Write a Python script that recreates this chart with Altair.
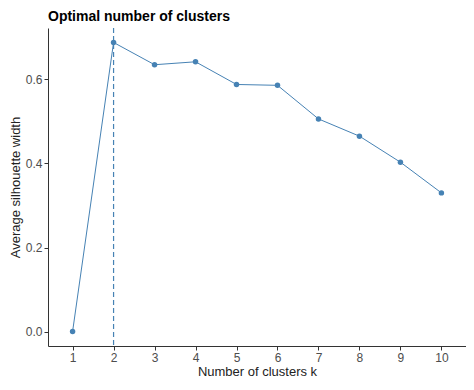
import altair as alt
import pandas as pd

k_values = [1, 2, 3, 4, 5, 6, 7, 8, 9, 10]
silhouette = [0.0, 0.688, 0.635, 0.642, 0.588, 0.586, 0.506, 0.465, 0.403, 0.330]
optimal_k = [2]
x_ticks = [1, 2, 3, 4, 5, 6, 7, 8, 9, 10]
y_ticks = [0.0, 0.2, 0.4, 0.6]
title_text = ["Optimal number of clusters"]

df = pd.DataFrame({"k": k_values, "s": silhouette})
vline = pd.DataFrame({"k": optimal_k})
tdf = pd.DataFrame({"t": title_text})

FONT = "Liberation Sans"
COL = "#4682B4"

x_enc = alt.X("k:Q",
              scale=alt.Scale(domain=[0.4, 10.6], nice=False, zero=False),
              axis=alt.Axis(values=x_ticks, title="Number of clusters k", grid=False,
                            labelFontSize=12, titleFontSize=13, labelColor="#4D4D4D",
                            titleColor="#222222", titleFontWeight="normal",
                            domainColor="#333333", tickColor="#333333", tickSize=4,
                            labelPadding=2, titlePadding=2, labelFont=FONT, titleFont=FONT))
y_enc = alt.Y("s:Q",
              scale=alt.Scale(domain=[-0.0344, 0.7224], nice=False, zero=False),
              axis=alt.Axis(values=y_ticks, format=".1f", title="Average silhouette width",
                            grid=False, labelFontSize=12, titleFontSize=13,
                            labelColor="#4D4D4D", titleColor="#222222",
                            titleFontWeight="normal", domainColor="#333333",
                            tickColor="#333333", tickSize=4, labelPadding=2,
                            titlePadding=3, labelFont=FONT, titleFont=FONT))

line = alt.Chart(df).mark_line(color=COL, strokeWidth=1).encode(x=x_enc, y=y_enc)
pts = alt.Chart(df).mark_circle(color=COL, size=30, opacity=1).encode(x="k:Q", y="s:Q")
rule = alt.Chart(vline).mark_rule(color=COL, strokeDash=[5, 3], strokeWidth=1.2).encode(x="k:Q")
title = alt.Chart(tdf).mark_text(font=FONT, fontSize=14, fontWeight="bold", color="#000000",
                                 align="left", baseline="alphabetic").encode(
    text="t:N", x=alt.value(0), y=alt.value(-7))

chart = alt.layer(rule, line, pts, title).properties(
    width=418, height=318,
    autosize=alt.AutoSizeParams(type="none"),
    padding={"left": 40, "top": 20, "right": 0, "bottom": 36},
).configure_view(stroke=None)

chart.save("out.html", embed_options={"renderer": "svg", "actions": False})
